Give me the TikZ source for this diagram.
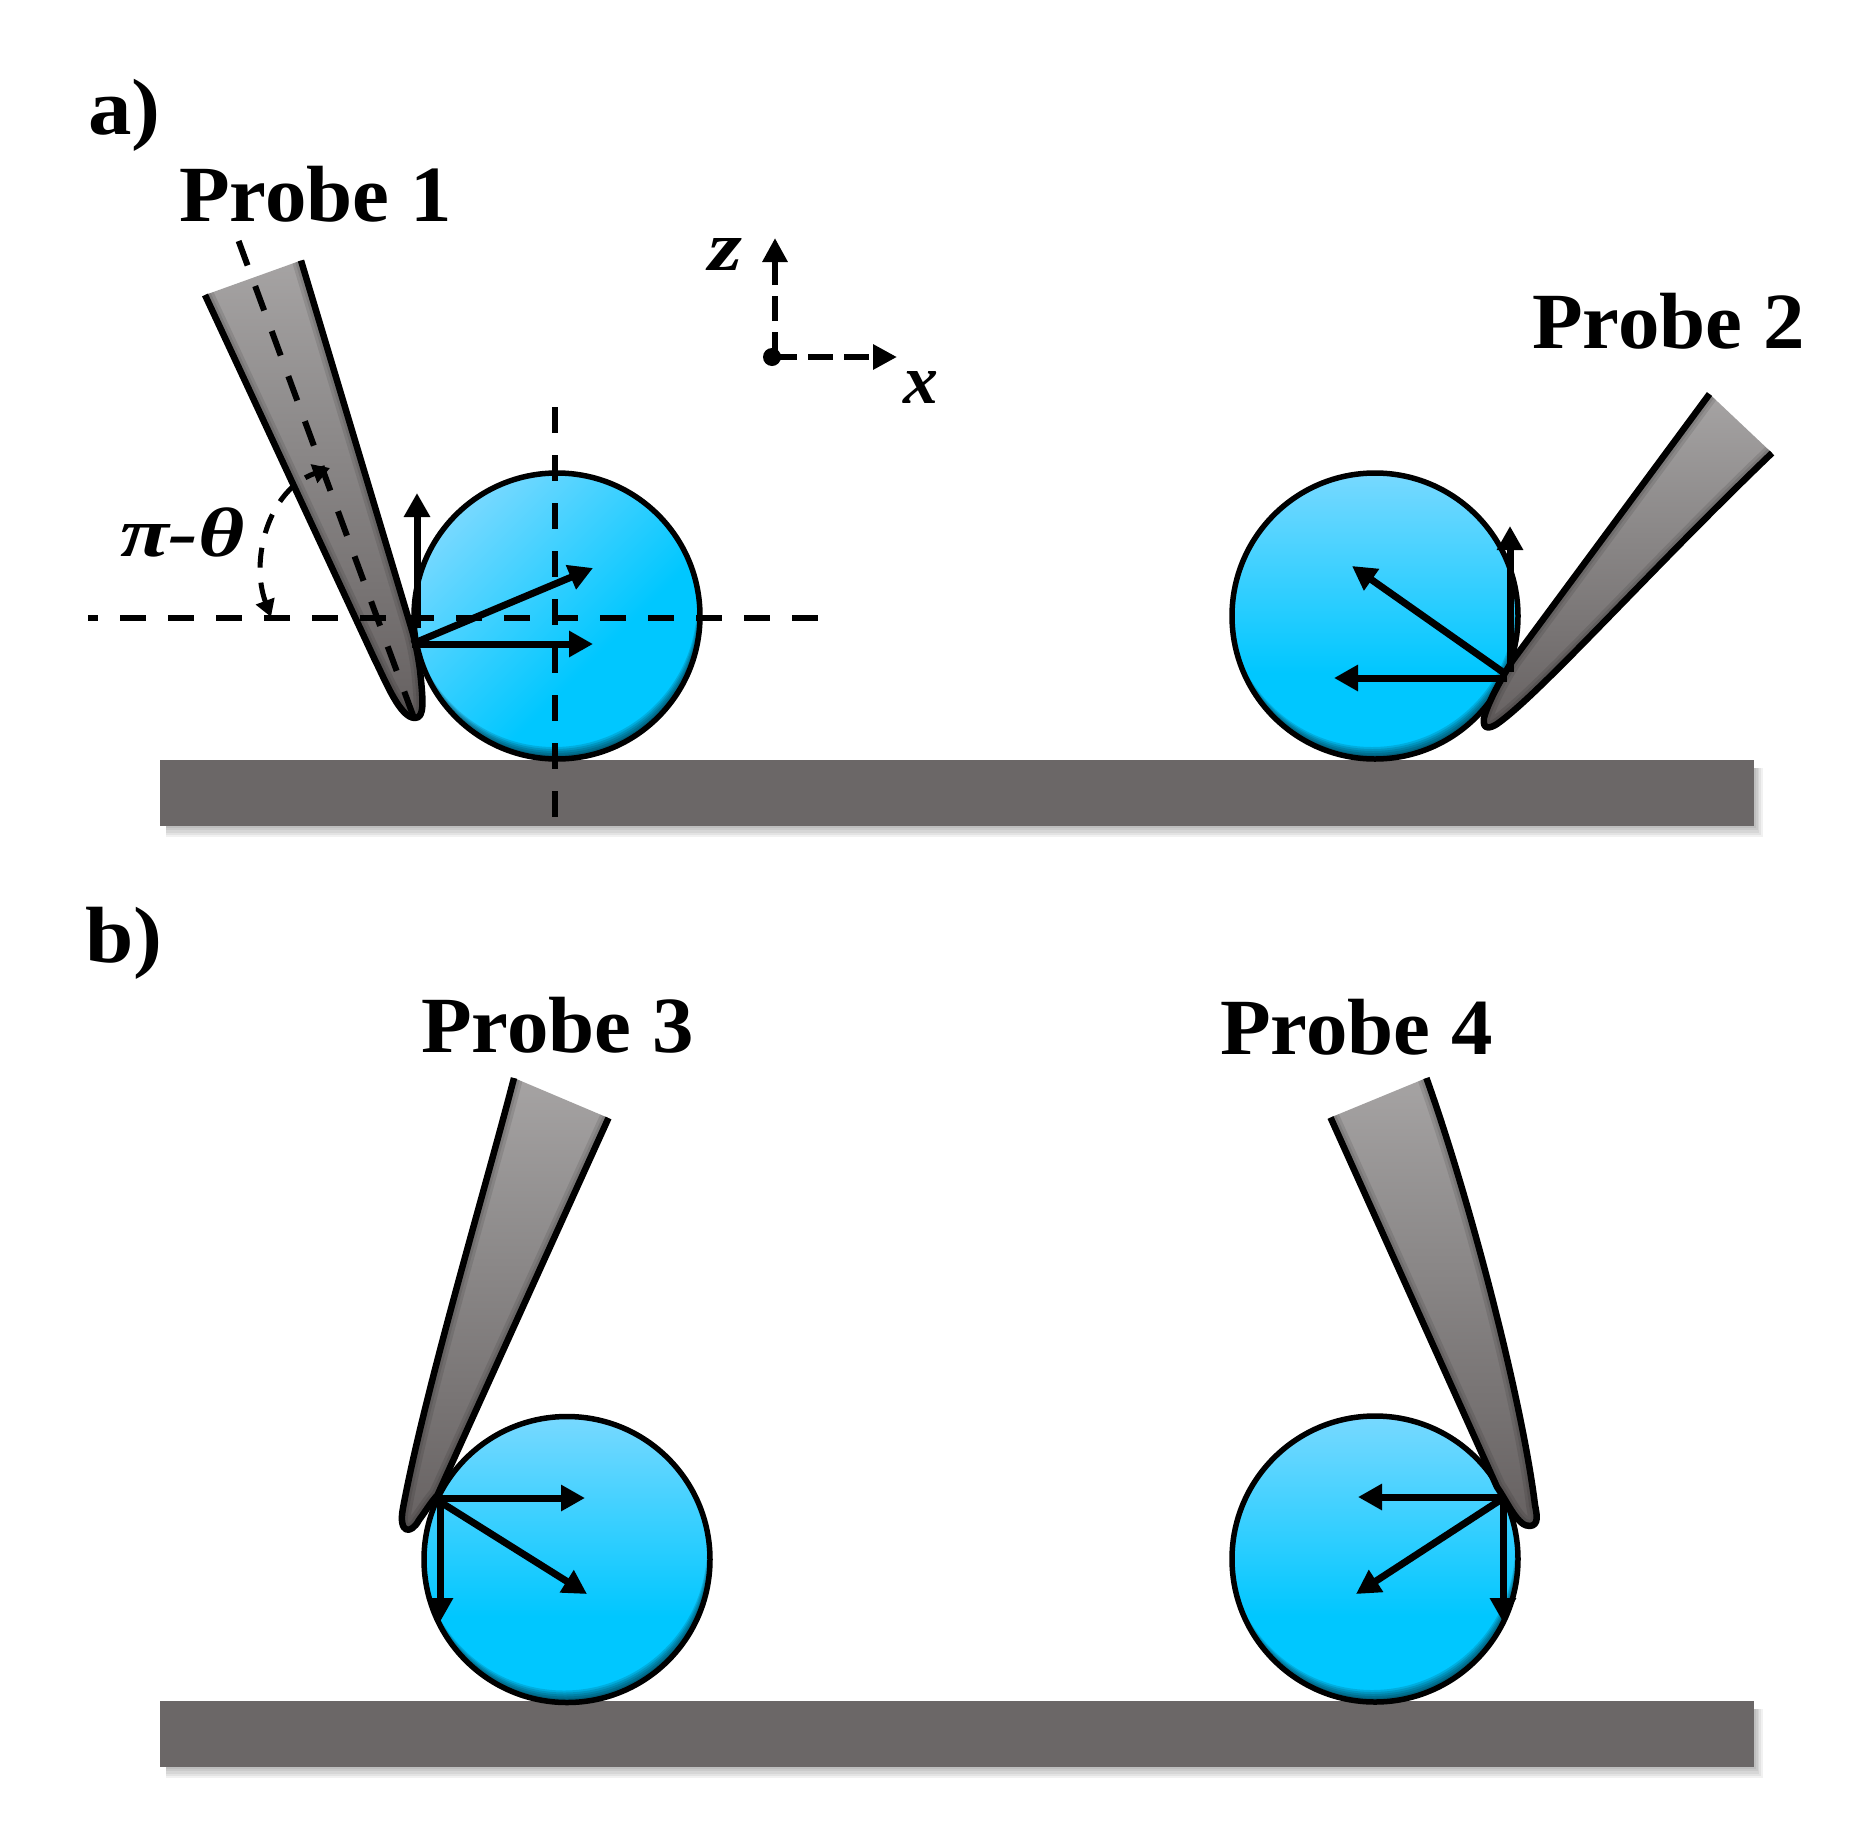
\documentclass[tikz,border=0pt]{standalone}
\usepackage{fontspec}
\usepackage{graphicx}
\setmainfont{Liberation Serif}
\usetikzlibrary{arrows.meta}
\pgfdeclareverticalshading{ballsh}{100bp}{rgb(0bp)=(0,.78,1); rgb(40bp)=(0,.78,1); rgb(75bp)=(.47,.85,1); rgb(100bp)=(.47,.85,1)}
\pgfdeclareverticalshading{probesh}{100bp}{rgb(0bp)=(.40,.38,.38); rgb(25bp)=(.40,.38,.38); rgb(60bp)=(.57,.56,.56); rgb(75bp)=(.65,.64,.64); rgb(100bp)=(.65,.64,.64)}
\tikzset{
  x=1bp,y=-1bp,
  bigtext/.style={inner sep=0pt,anchor=base west,text=black,font=\fontsize{80}{80}\selectfont\bfseries},
  mathtext/.style={inner sep=0pt,anchor=base west,text=black,font=\fontsize{70}{70}\selectfont\bfseries\itshape},
  force/.style={line width=7bp,draw=black,-{Triangle[length=24bp,width=25bp]}},
  dashline/.style={line width=6bp,draw=black,dash pattern=on 26bp off 22bp},
  ballline/.style={line width=5.5bp,draw=black},
  probeline/.style={line width=6.5bp,draw=black,line join=round},
}
\newcommand{\wide}[1]{\scalebox{1.04}[1]{#1}}
\newcommand{\barshape}[2]{%
  \foreach \i in {1,...,5}{\fill[black,opacity=.055] (166,#1+8) rectangle (1754+1.8*\i,#2+2.2*\i);}
  \fill[fill={rgb,255:red,107;green,103;blue,103}] (159.5,#1) rectangle (1754,#2);}
\newcommand{\ball}[4]{% name, cx, cy, shading angle
  \coordinate (#1) at (#2,#3);
  \shade[shading=ballsh,shading angle=#4] (#1) circle[radius=143];
  \begin{scope}
    \clip (#1) circle[radius=143];
    \foreach \d in {2,4,6,8,10,12}{\fill[black,opacity=.13,even odd rule] (#1) circle[radius=146] ([yshift=\d bp,xshift=-\d*0.25 bp]#1) circle[radius=143];}
  \end{scope}
  \draw[ballline] (#1) circle[radius=143];}
\newcommand{\probe}[1]{%
  \shade[shading=probesh] #1 -- cycle;
  \begin{scope}
    \clip #1 -- cycle;
    \foreach \w in {6,12,18}{\draw[black,opacity=.10,line width=\w bp] #1;}
  \end{scope}
  \draw[probeline] #1;}
\begin{document}
\begin{tikzpicture}
\useasboundingbox (0,0) rectangle (1849,1836);
\fill[white] (0,0) rectangle (1849,1836);
% substrates
\barshape{760}{826}
\barshape{1701}{1767}
% spheres
\ball{ca}{557}{616}{45}
\ball{cb}{1375}{616}{0}
\ball{cc}{567}{1559.5}{0}
\ball{cd}{1375}{1559}{0}
% probes
\probe{(205,295) -- (374,658) .. controls (386,682) and (400,718) .. (415,718) .. controls (425,718) and (423,700) .. (420,670) .. controls (418,655) and (415,640) .. (411,627) -- (301,260.5)}
\probe{(1709.5,394) -- (1513,660) .. controls (1500,680) and (1487,705) .. (1484,718) .. controls (1482,731) and (1491,728) .. (1497,724) .. controls (1540,694) and (1650,570) .. (1772,453)}
\probe{(514,1078) .. controls (485,1190) and (425,1390) .. (403,1508) .. controls (398,1534) and (411,1535) .. (419,1520) .. controls (425,1512) and (431,1502) .. (437.5,1495) -- (608.5,1118)}
\probe{(1330.5,1117.5) -- (1497,1487) .. controls (1508,1503) and (1518,1527) .. (1530,1526) .. controls (1539,1525) and (1537,1515) .. (1535,1505) .. controls (1522,1400) and (1470,1200) .. (1426.4,1078)}
% reference lines
\coordinate (hl) at (88,618);  \coordinate (hr) at (822,618);
\coordinate (vt) at (555,407); \coordinate (vb) at (555,822);
\coordinate (axt) at (238.6,241); \coordinate (axb) at (414,718);
\draw[dashline,dash phase=16bp] (hl) -- (hr);
\draw[dashline] (vt) -- (vb);
\draw[dashline] (axt) -- (axb);
% angle
\coordinate (arcA) at (271,617); \coordinate (arcB) at (330,468);
\draw[line width=5bp,draw=black,dash pattern=on 20bp off 15bp,{Triangle[length=17bp,width=19bp]}-{Triangle[length=17bp,width=19bp]}] (arcA) .. controls (250,560) and (268,490) .. (arcB);
% coordinate frame
\coordinate (orig) at (772,357); \coordinate (zt) at (775,238); \coordinate (xt) at (897,359);
\fill[black] (orig) circle[radius=9];
\draw[line width=6.5bp,draw=black,dash pattern=on 25bp off 11bp,-{Triangle[length=24bp,width=24bp]}] (orig -| zt) -- (zt);
\draw[line width=6.5bp,draw=black,dash pattern=on 25bp off 11bp,-{Triangle[length=24bp,width=24bp]}] (orig) -- (orig -| xt);
% forces, probe 1
\coordinate (oa) at (412,644); \coordinate (oau) at (417,628);
\coordinate (a1) at (593,568); \coordinate (a2) at (593,644); \coordinate (a3) at (417,493);
\draw[force] (oa) -- (a1); \draw[force] (oa) -- (a2); \draw[force] (oau) -- (a3);
% forces, probe 2
\coordinate (ob) at (1507,675); \coordinate (obh) at (1507,678); \coordinate (obu) at (1510,672);
\coordinate (b1) at (1352,566); \coordinate (b2) at (1334,678); \coordinate (b3) at (1510,526);
\draw[force] (ob) -- (b1); \draw[force] (obh) -- (b2); \draw[force] (obu) -- (b3);
% forces, probe 3
\coordinate (oc) at (434,1498);
\coordinate (c1) at (585,1498); \coordinate (c2) at (587,1594); \coordinate (c3) at (440,1622);
\draw[force] (oc) -- (c1); \draw[force] (oc) -- (c2); \draw[force] (oc -| c3) -- (c3);
% forces, probe 4
\coordinate (od) at (1505,1497);
\coordinate (d1) at (1358,1497); \coordinate (d2) at (1356,1594); \coordinate (d3) at (1503,1622);
\draw[force] (od) -- (d1); \draw[force] (od) -- (d2); \draw[force] (od -| d3) -- (d3);
% labels
\node[bigtext] (la) at (88,134) {\scalebox{1.09}[1]{a)}};
\node[bigtext] (lb) at (85,962) {\scalebox{1.09}[1]{b)}};
\node[bigtext] (p1) at (179,221) {\wide{Probe 1}};
\node[bigtext] (p2) at (1532,348) {\wide{Probe 2}};
\node[bigtext] (p3) at (421,1052) {\wide{Probe 3}};
\node[bigtext] (p4) at (1220,1054) {\wide{Probe 4}};
\node[mathtext] (th) at (120,556) {\scalebox{1.28}[1]{π-θ}};
\node[mathtext] (lz) at (708,270) {\scalebox{1.25}[1]{z}};
\node[mathtext] (lx) at (903,403) {x};
\end{tikzpicture}
\end{document}
